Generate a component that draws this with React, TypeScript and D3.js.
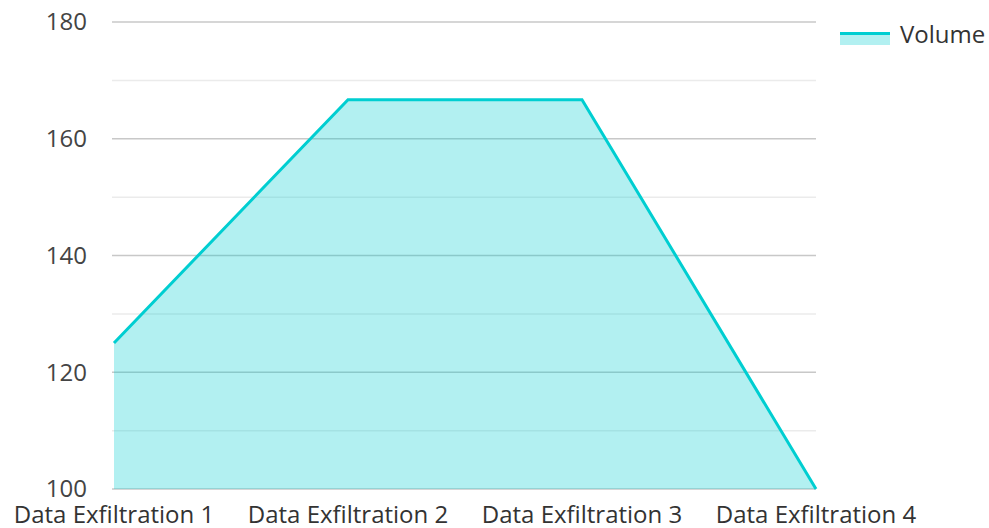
import * as d3 from "d3";

const categories = ["Data Exfiltration 1", "Data Exfiltration 2", "Data Exfiltration 3", "Data Exfiltration 4"];
const volume = [125, 166.7, 166.7, 100];
const majorTicks = [100, 120, 140, 160, 180];
const minorTicks = [110, 130, 150, 170];

const width = 989;
const height = 528;
const lineColor = "#00CED1";

export default function App() {
    const x = d3.scalePoint<string>().domain(categories).range([114, 816]);
    const y = d3.scaleLinear().domain([100, 180]).range([489, 22]);

    const pts = categories.map((c, i) => ({c, v: volume[i]}));

    const area = d3.area<{c: string; v: number}>()
        .x(d => x(d.c)!)
        .y0(y(100))
        .y1(d => y(d.v));
    const line = d3.line<{c: string; v: number}>()
        .x(d => x(d.c)!)
        .y(d => y(d.v));

    return (
        <svg width={width} height={height}
             style={{position: "absolute", left: 0, top: 0, fontFamily: "'Open Sans', sans-serif"}}>
            {minorTicks.map(t => (
                <line key={"m" + t} x1={112} x2={816} y1={y(t)} y2={y(t)} stroke="#ebebeb" strokeWidth={1.5}/>
            ))}
            {majorTicks.map(t => (
                <line key={"M" + t} x1={112} x2={816} y1={y(t)} y2={y(t)} stroke="#c8c8c8" strokeWidth={1.5}/>
            ))}
            <path d={area(pts)!} fill={lineColor} fillOpacity={0.3}/>
            <path d={line(pts)!} fill="none" stroke={lineColor} strokeWidth={3}/>
            {majorTicks.map(t => (
                <text key={"l" + t} x={87} y={y(t)} dy="0.35em" textAnchor="end" fontSize={24} fill="#444">{t}</text>
            ))}
            {categories.map(c => (
                <text key={c} x={x(c)} y={523} textAnchor="middle" fontSize={24} fill="#333">{c}</text>
            ))}
            <g>
                <rect x={840} y={34} width={50} height={11} fill={lineColor} fillOpacity={0.3}/>
                <line x1={840} x2={890} y1={33.5} y2={33.5} stroke={lineColor} strokeWidth={3}/>
                <text x={900} y={43} fontSize={24} fill="#333">Volume</text>
            </g>
        </svg>
    );
}
